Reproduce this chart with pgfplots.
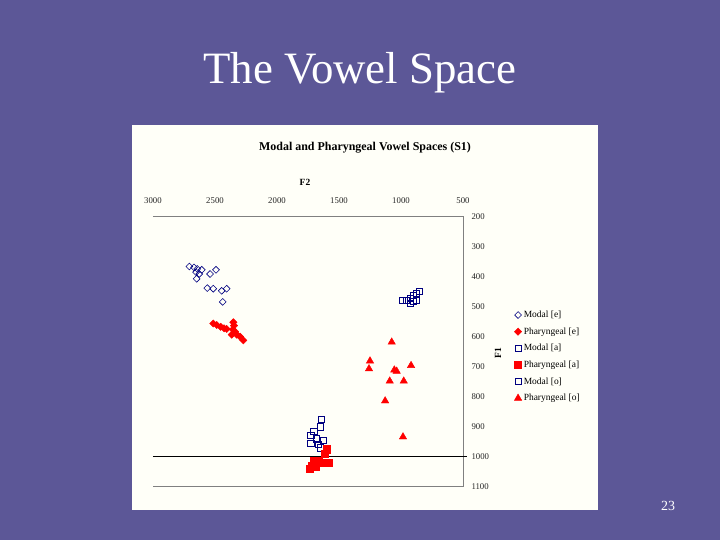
\documentclass[border=0pt]{standalone}
\usepackage{pgfplots}
\pgfplotsset{compat=1.18}
\usepackage{fontspec}
\setmainfont{Liberation Serif}
\definecolor{slide}{HTML}{5C5797}
\definecolor{paper}{HTML}{FFFFF8}
\definecolor{navy}{HTML}{000080}
\definecolor{axgray}{HTML}{808080}
\begin{document}
\begin{tikzpicture}[x=1bp,y=1bp]
\fill[slide] (0,0) rectangle (720,540);
\useasboundingbox (0,0) rectangle (720,540);
\fill[paper] (132,30) rectangle (598,415);
\node[anchor=base,text=white,inner sep=0pt,font=\fontsize{45}{50}\selectfont] at (360,456) {The Vowel Space};
\node[anchor=base,text=white,inner sep=0pt,font=\fontsize{14}{16}\selectfont] at (668,29) {23};
\node[font=\bfseries\fontsize{12}{14}\selectfont] at (365,392) {Modal and Pharyngeal Vowel Spaces (S1)};
\node[font=\bfseries\fontsize{9.5}{11}\selectfont] at (305,358) {F2};
\node[font=\bfseries\fontsize{9.5}{11}\selectfont,rotate=90] at (498,187) {F1};
\begin{axis}[
  at={(153bp,53bp)}, anchor=south west,
  scale only axis, width=310bp, height=270bp,
  xmin=500, xmax=3000, ymin=200, ymax=1100,
  x dir=reverse, y dir=reverse,
  clip=false,
  axis line style={draw=none},
  major tick length=0pt,
  xtick={500,1000,...,3000}, ytick={200,300,...,1100},
  xticklabel pos=upper, yticklabel pos=upper,
  xticklabel style={yshift=10bp},
  yticklabel style={xshift=5bp},
  /pgf/number format/assume math mode=true,
  /pgf/number format/1000 sep={},
  tick label style={font=\fontsize{8.8}{10}\selectfont, text=black!85},
  legend style={at={(1.165,0.66)}, anchor=north west, draw=none, fill=none,
    font=\fontsize{9.5}{11}\selectfont, row sep=4.6bp, inner sep=0pt,
    /tikz/every even column/.append style={column sep=3bp}},
  legend cell align=left,
]
\draw[axgray, line width=1bp] (axis cs:3000,200) -- (axis cs:500,200) -- (axis cs:500,1100) -- (axis cs:3000,1100);
\draw[black, line width=1bp] (axis cs:3000,1000) -- (axis cs:468,1000);
\addplot[only marks, mark=square, mark size=2.4bp, mark options={rotate=45, draw=navy, line width=0.6bp, fill=none}] coordinates {
(2707,365) (2669,368) (2643,373) (2607,376) (2653,384) (2627,390) (2648,406)
(2540,390) (2492,376) (2562,437) (2514,439) (2446,446) (2406,439) (2438,483)};
\addlegendentry{Modal [e]}
\addplot[only marks, mark=square*, mark size=2.6bp, mark options={rotate=45, draw=red, fill=red}] coordinates {
(2514,555) (2486,560) (2454,566) (2427,571) (2406,573) (2352,551) (2347,562)
(2357,575) (2339,582) (2365,592) (2325,592) (2298,599) (2272,611)};
\addlegendentry{Pharyngeal [e]}
\addplot[only marks, mark=square, mark size=3.2bp, mark options={draw=navy, line width=0.6bp, fill=none}] coordinates {
(1645,874) (1653,900) (1702,914) (1726,927) (1726,954) (1669,957) (1629,944) (1653,970) (1685,940)};
\addlegendentry{Modal [a]}
\addplot[only marks, mark=square*, mark size=3.6bp, mark options={draw=red, fill=red}] coordinates {
(1720,1029) (1707,1012) (1639,1018) (1613,990) (1599,974) (1586,1018) (1734,1040) (1667,1012) (1685,1033)};
\addlegendentry{Pharyngeal [a]}
\addplot[only marks, mark=square, mark size=3bp, mark options={draw=navy, line width=0.6bp, fill=none}] coordinates {
(992,479) (960,479) (927,472) (903,462) (879,456) (855,449) (903,482) (879,479) (927,489)};
\addlegendentry{Modal [o]}
\addplot[only marks, mark=triangle*, mark size=4.3bp, mark options={draw=red, fill=red}] coordinates {
(1075,617) (1250,680) (1258,706) (1054,710) (1035,714) (919,695) (1091,747) (978,747) (1128,813) (984,933)};
\addlegendentry{Pharyngeal [o]}
\end{axis}
\end{tikzpicture}
\end{document}
